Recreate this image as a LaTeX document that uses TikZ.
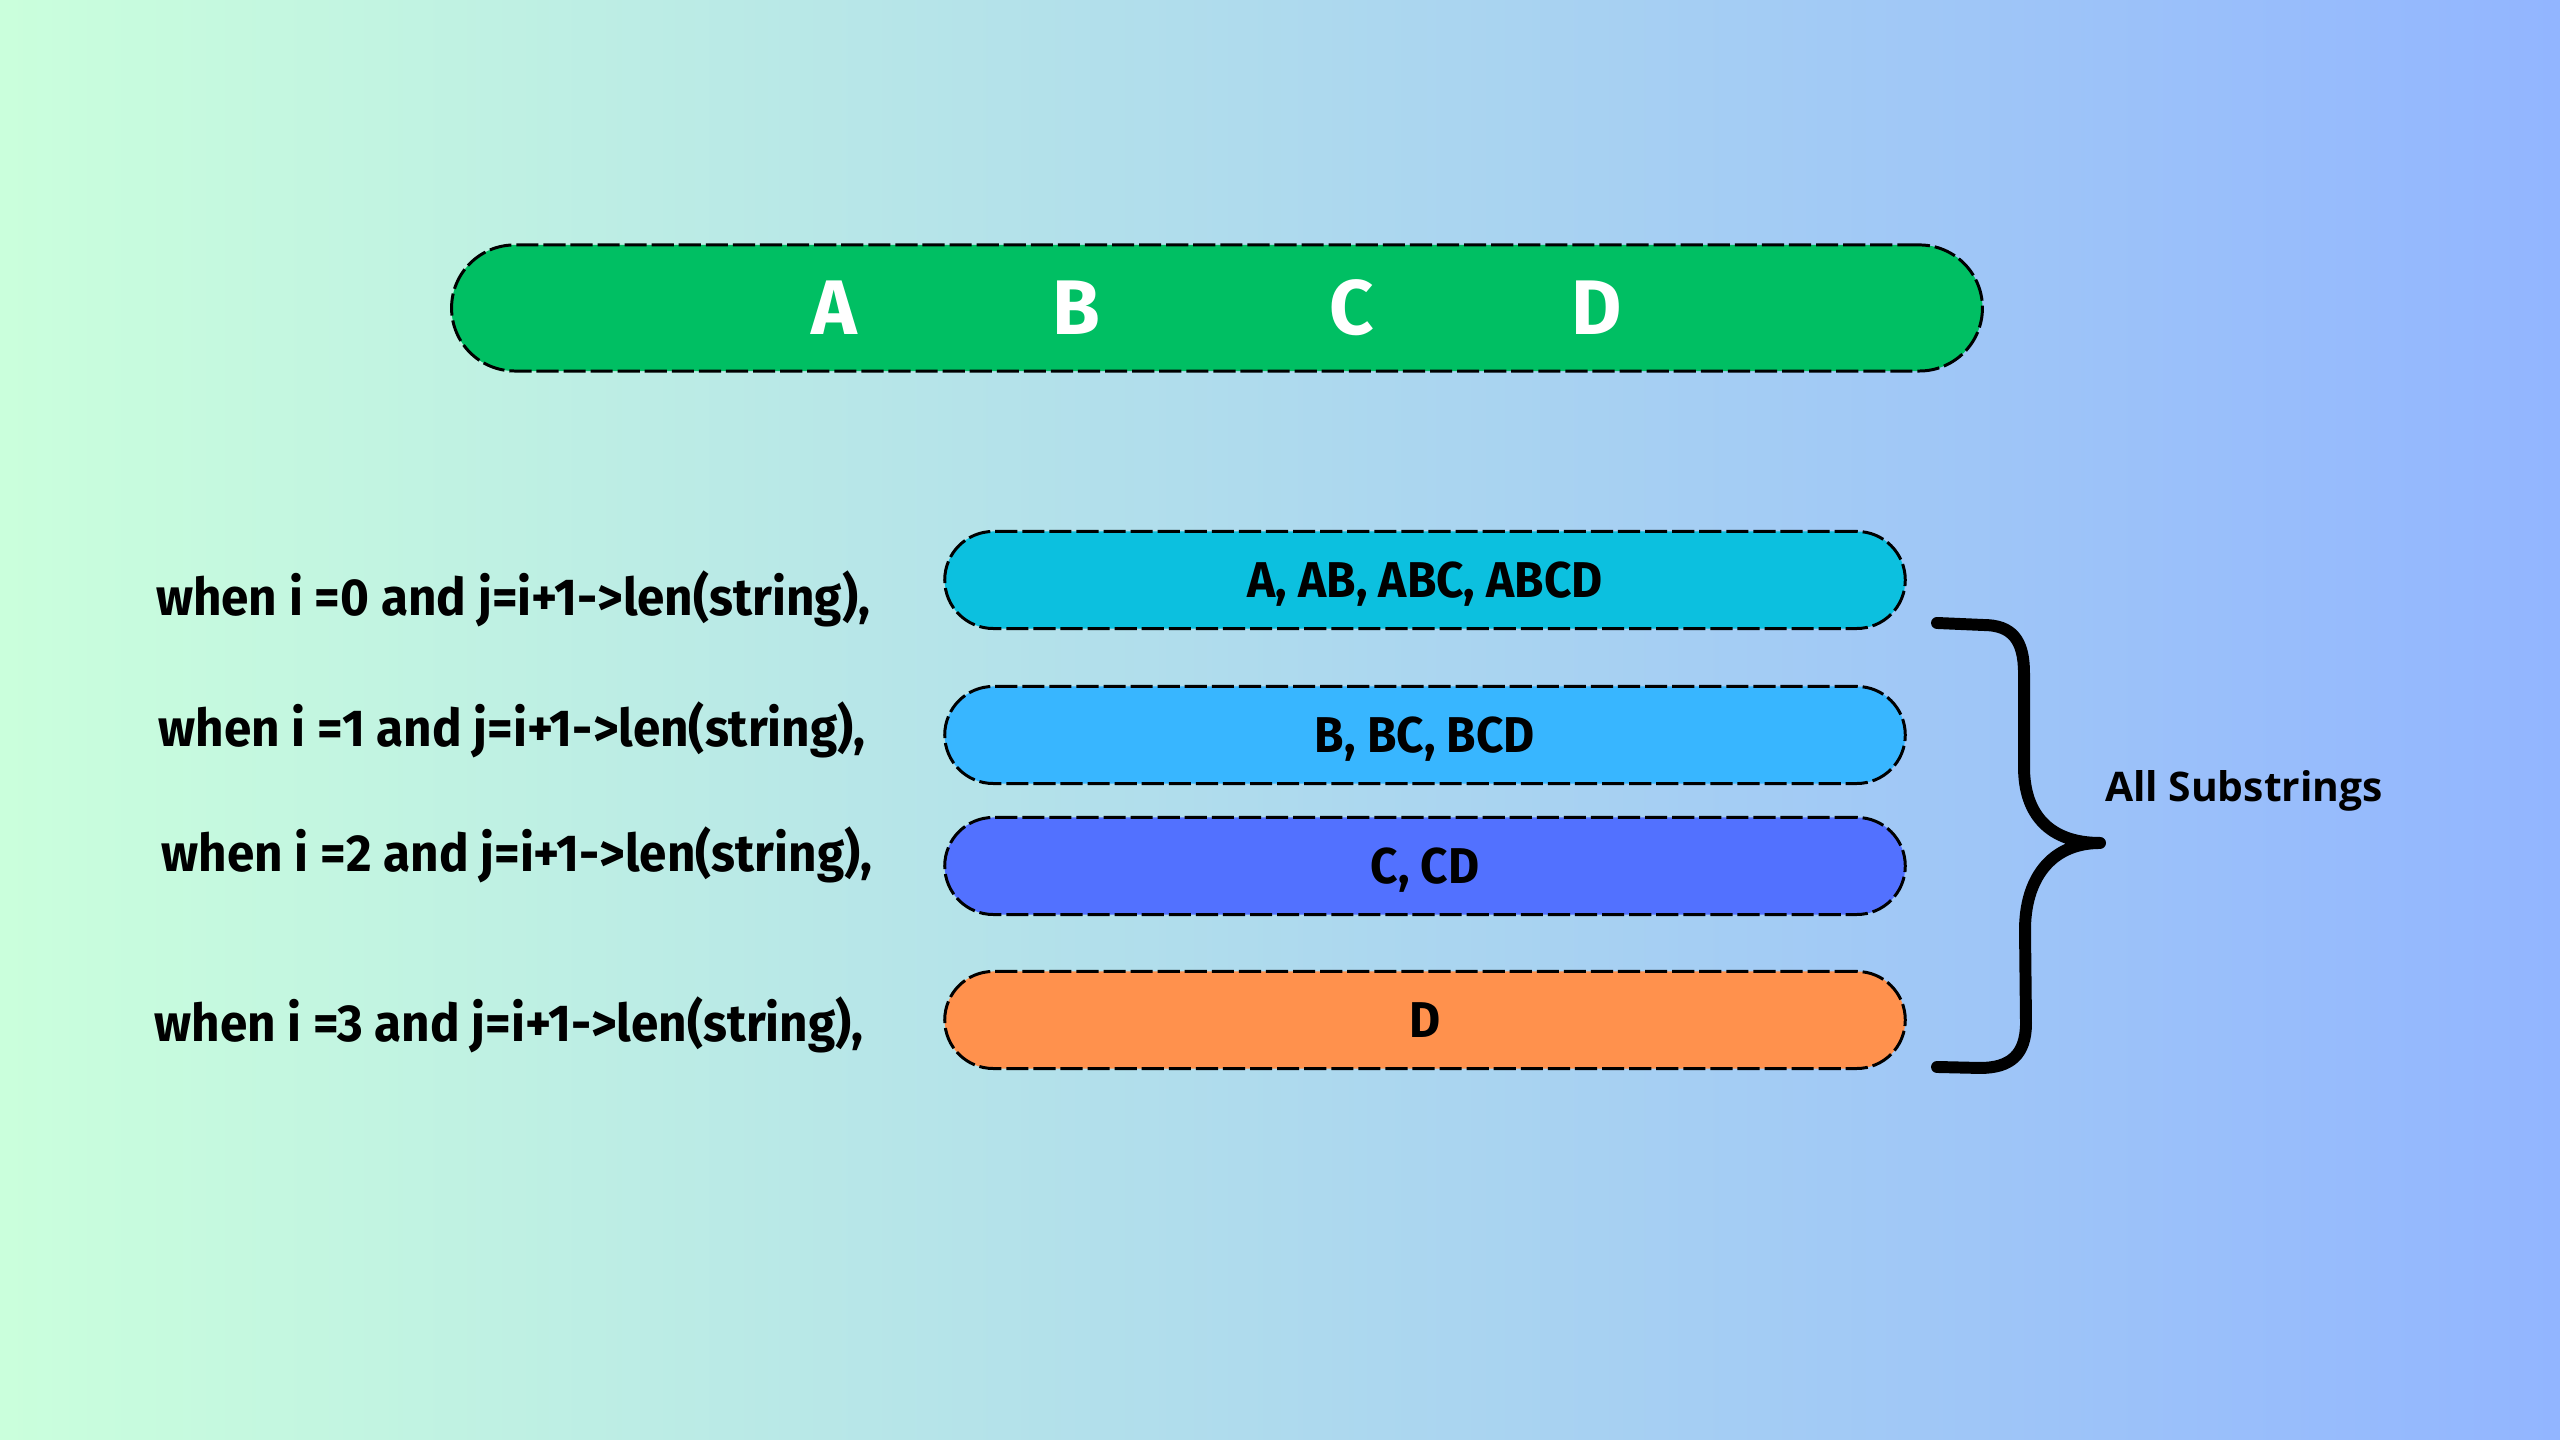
\documentclass[tikz,border=0pt]{standalone}
\usepackage{fontspec}
\usepackage{xcolor}
\usepackage{tikz}
\usetikzlibrary{positioning}
\newfontfamily\condfont{Fira Sans}[FakeStretch=0.95]
\newfontfamily\firafont{Fira Sans}
\newfontfamily\plainfont{Open Sans}
\definecolor{bgleft}{HTML}{CAFFDC}
\definecolor{bgright}{HTML}{92B5FF}
\definecolor{strgreen}{HTML}{00BF63}
\definecolor{rowcyan}{HTML}{0CC0DF}
\definecolor{rowsky}{HTML}{38B6FF}
\definecolor{rowblue}{HTML}{5271FF}
\definecolor{roworange}{HTML}{FF914D}

\begin{document}
\begin{tikzpicture}[
  x=0.01cm, y=0.01cm,
  dashbox/.style={draw=black, line width=0.85pt, dash pattern=on 6.3pt off 1.4pt, inner sep=0pt, rounded corners=#1},
  strbar/.style={dashbox=0.63cm, fill=strgreen, minimum width=15.3cm, minimum height=1.26cm},
  rowbox/.style={dashbox=0.485cm, fill=#1, minimum width=9.6cm, minimum height=0.97cm, text height=9.9pt, text depth=0pt, font=\condfont\bfseries\fontsize{14.3}{16}\selectfont},
  letter/.style={text=white, text height=15.2pt, text depth=0pt, font=\firafont\bfseries\fontsize{22}{26}\selectfont},
  cond/.style={font=\condfont\bfseries\fontsize{14.8}{17}\selectfont},
  brace/.style={line width=3.4pt, line cap=round, line join=round}
]
\useasboundingbox (0,0) rectangle (2560,1440);
\fill[left color=bgleft, right color=bgright] (0,0) rectangle (2560,1440);

\node[strbar] (bar) at (1217,1132) {};
\foreach \ch/\xx in {A/834,B/1076,C/1352,D/1597}
  \node[letter] (l\ch) at (\xx,1132) {\ch};

\node[rowbox=rowcyan] (r0) at (1425,860) {A, AB, ABC, ABCD};
\node[rowbox=rowsky] (r1) at (1425,705) {B, BC, BCD};
\node[rowbox=rowblue] (r2) at (1425,574) {C, CD};
\node[rowbox=roworange] (r3) at (1425,420) {D};

\foreach \n/\xx/\yy in {0/513/841,1/512/710,2/517/585,3/509/415}
  \node[cond] (w\n) at (\xx,\yy) {when i =\n{} and j=i+1->len(string),};

\draw[brace] (1937,817) -- (1983,815) .. controls (2012,815) and (2024,800) .. (2024,767)
  -- (2024,673) .. controls (2024,625) and (2050,597) .. (2100,597)
  .. controls (2050,597) and (2025,560) .. (2025,510)
  -- (2026,417) .. controls (2026,385) and (2010,372) .. (1980,372) -- (1937,373);
\node[font=\plainfont\bfseries\fontsize{11.6}{14}\selectfont] (allsub) at (2244,649) {All Substrings};
\end{tikzpicture}
\end{document}
